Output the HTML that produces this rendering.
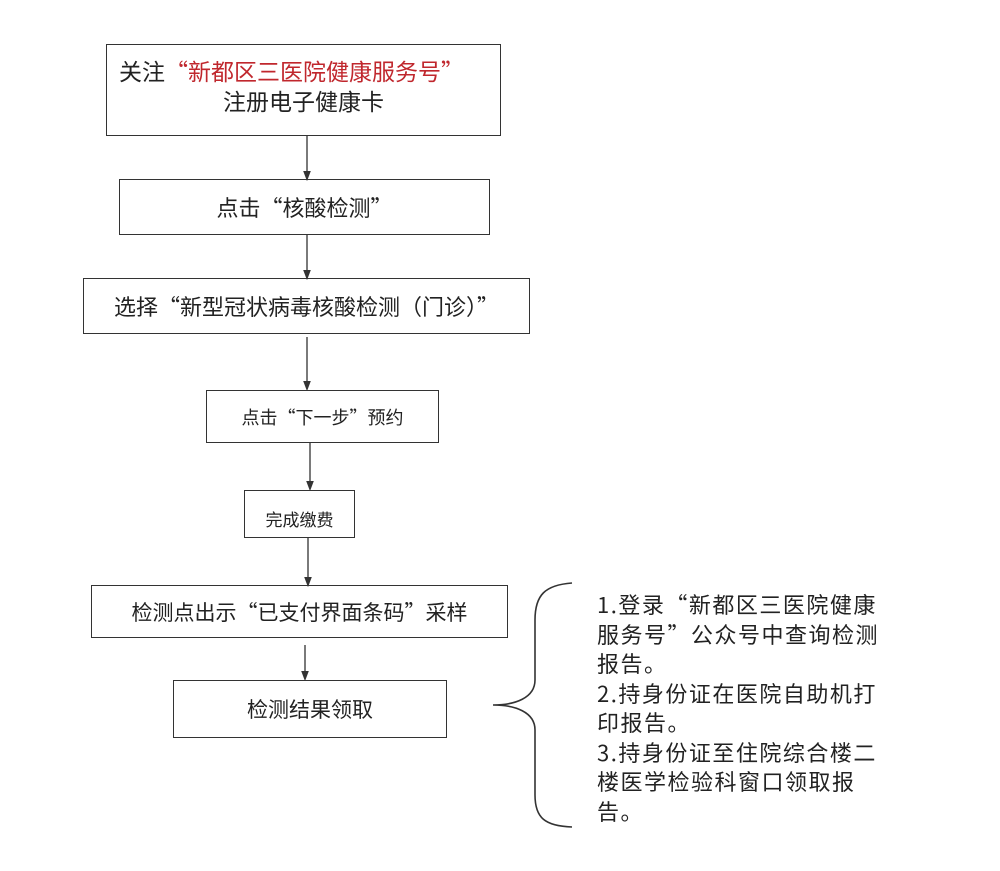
<!DOCTYPE html>
<html><head><meta charset="utf-8"><style>
body{margin:0;background:#fff;}
.c{position:relative;width:1000px;height:871px;overflow:hidden;font-family:"Noto Sans CJK SC","Liberation Sans",sans-serif;color:#222;}
.b{position:absolute;border:1.5px solid #333;box-sizing:border-box;display:flex;align-items:center;justify-content:center;text-align:center;white-space:nowrap;}
.t{position:absolute;left:597px;font-size:22px;letter-spacing:1.5px;line-height:29.5px;white-space:nowrap;}
</style></head><body><div class="c">
<div class="b" style="left:106px;top:44px;width:395px;height:92px;font-size:23px;line-height:30px;display:block;padding-top:10px;">
<div style="text-align:left;padding-left:12px;">关注<span style="color:#c0272d">“新都区三医院健康服务号”</span></div>
<div>注册电子健康卡</div></div>
<div class="b" style="left:119px;top:179px;width:371px;height:56px;font-size:22px;">点击“核酸检测”</div>
<div class="b" style="left:83px;top:278px;width:447px;height:56px;font-size:22px;">选择“新型冠状病毒核酸检测（门诊）”</div>
<div class="b" style="left:206px;top:390px;width:233px;height:53px;font-size:18px;">点击“下一步”预约</div>
<div class="b" style="left:244px;top:490px;width:111px;height:48px;font-size:17px;padding-top:8px;">完成缴费</div>
<div class="b" style="left:91px;top:585px;width:417px;height:53px;font-size:21px;">检测点出示“已支付界面条码”采样</div>
<div class="b" style="left:173px;top:680px;width:274px;height:58px;font-size:21px;">检测结果领取</div>
<svg width="1000" height="871" style="position:absolute;left:0;top:0">
<defs><marker id="a" markerWidth="8" markerHeight="8" refX="4" refY="4" orient="auto"><path d="M0,1 L8,4 L0,7z" fill="#333"/></marker></defs>
<g stroke="#333" stroke-width="1.3" fill="none">
<line x1="307" y1="136" x2="307" y2="176" marker-end="url(#a)"/>
<line x1="307" y1="235" x2="307" y2="275" marker-end="url(#a)"/>
<line x1="307" y1="337" x2="307" y2="386" marker-end="url(#a)"/>
<line x1="310" y1="443" x2="310" y2="486" marker-end="url(#a)"/>
<line x1="308" y1="538" x2="308" y2="582" marker-end="url(#a)"/>
<line x1="305" y1="645" x2="305" y2="676" marker-end="url(#a)"/>
<path d="M572,583 C545,585 535,595 535,620 L535,680 C535,698 515,705 493,705 C515,705 535,712 535,730 L535,795 C535,818 545,826 572,827" stroke-width="1.6"/>
</g></svg>
<div class="t" style="top:590px;">1.登录“新都区三医院健康<br>服务号”公众号中查询检测<br>报告。<br>2.持身份证在医院自助机打<br>印报告。<br>3.持身份证至住院综合楼二<br>楼医学检验科窗口领取报<br>告。</div>
</div></body></html>
